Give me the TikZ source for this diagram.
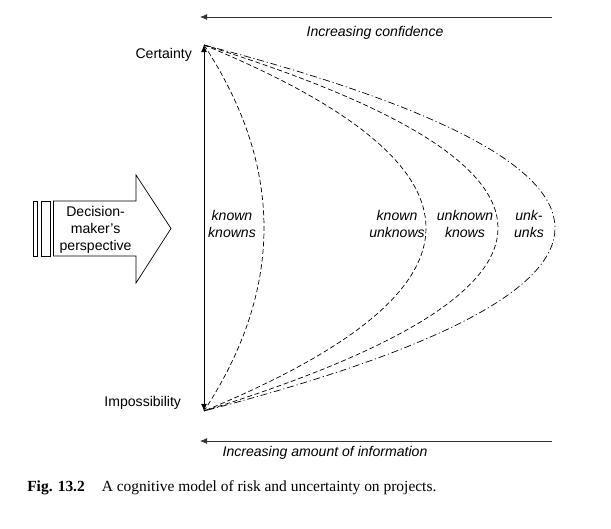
\documentclass[tikz,border=0pt]{standalone}
\usepackage{fontspec}
\setmainfont{Liberation Sans}
\newfontfamily\captionserif{Liberation Serif}
\usetikzlibrary{positioning, arrows.meta, calc}

\begin{document}
\begin{tikzpicture}[
    >={Latex[length=1.8mm, width=1.5mm]}, % small filled heads
    font=\fontsize{10}{12}\selectfont,
    zonetext/.style={
        align=center,
        font=\fontsize{10}{12}\selectfont\itshape
    },
    guide/.style={
        ->,
        draw=black!80,
        line width=0.5pt
    },
    boundary/.style={
        line width=0.5pt,
        dash pattern=on 3.5pt off 2pt
    },
    outerbound/.style={
        line width=0.5pt,
        dash pattern=on 5pt off 2pt on 0.8pt off 2pt
    },
    stripe/.style={
        draw,
        fill=white,
        line width=0.5pt
    }
]

    \useasboundingbox (0,0) rectangle (15.275,13.225);

    % =======================================================
    % CERTAINTY AXIS
    % =======================================================
    \coordinate (cert) at (5.1, 12.1);
    \coordinate (imp) at (5.1, 2.95);

    \draw[<->, line width=0.5pt] (imp) -- (cert);
    \node[anchor=east] (certLbl) at (4.92, 11.85) {Certainty};
    \node[anchor=east] (impLbl) at (4.65, 3.15) {Impossibility};

    % =======================================================
    % KNOWLEDGE BOUNDARIES
    % =======================================================
    % Control points (parabola apex lies half way to them)
    \coordinate (q1) at (8.1, 7.525);
    \coordinate (q2) at (16.2, 7.525);
    \coordinate (q3) at (19.8, 7.525);
    \coordinate (q4) at (22.65, 7.525);

    \draw[boundary] (cert) .. controls ($(cert)!2/3!(q1)$) and ($(imp)!2/3!(q1)$) .. (imp);
    \draw[boundary] (cert) .. controls ($(cert)!2/3!(q2)$) and ($(imp)!2/3!(q2)$) .. (imp);
    \draw[boundary] (cert) .. controls ($(cert)!2/3!(q3)$) and ($(imp)!2/3!(q3)$) .. (imp);
    \draw[outerbound] (cert) .. controls ($(cert)!2/3!(q4)$) and ($(imp)!2/3!(q4)$) .. (imp);

    % Zone labels
    \node[zonetext] (kk) at (5.8, 7.625) {known\\knowns};
    \node[zonetext] (ku) at (9.925, 7.625) {known\\unknows};
    \node[zonetext] (uk) at (11.625, 7.625) {unknown\\knows};
    \node[zonetext] (uu) at (13.225, 7.625) {unk-\\unks};

    % =======================================================
    % DECISION-MAKER ARROW
    % =======================================================
    \draw[line width=0.5pt] (1.3375,8.2) -- (3.4,8.2) -- (3.4,8.85) -- (4.275,7.5125)
        -- (3.4,6.15) -- (3.4,6.825) -- (1.3375,6.825) -- cycle;
    \draw[stripe] (0.833,6.825) rectangle (0.942,8.2);
    \draw[stripe] (1.025,6.825) rectangle (1.267,8.2);
    \node[align=center] (perspective) at (2.39, 7.48) {Decision-\\maker's\\perspective};

    % =======================================================
    % TREND ARROWS
    % =======================================================
    \coordinate (confStart) at (13.8, 12.8);
    \coordinate (confEnd) at (5.0, 12.8);
    \draw[guide] (confStart) -- (confEnd);
    \node[zonetext] (confLbl) at (9.375, 12.4) {Increasing confidence};

    \coordinate (infoStart) at (13.8, 2.2);
    \coordinate (infoEnd) at (5.0, 2.2);
    \draw[guide] (infoStart) -- (infoEnd);
    \node[zonetext] (infoLbl) at (8.125, 1.9) {Increasing amount of information};

    % Caption
    \node[anchor=base west, inner sep=0, font=\captionserif\fontsize{11}{13}\selectfont] (caption)
        at (0.675, 0.93) {\textbf{Fig. 13.2}\hspace{1.1em}A cognitive model of risk and uncertainty on projects.};

\end{tikzpicture}
\end{document}
